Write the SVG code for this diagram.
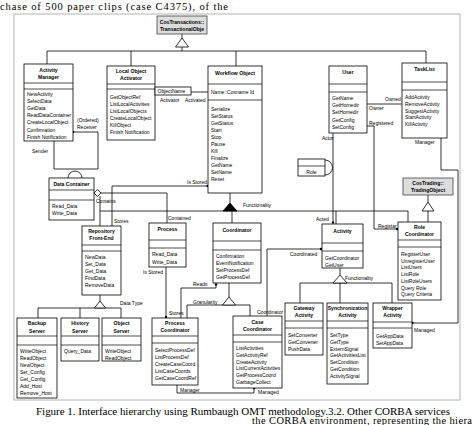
<svg xmlns="http://www.w3.org/2000/svg" width="474" height="425" viewBox="0 0 474 425">
<style>
.bx{fill:#fff;stroke:#000;stroke-width:0.8}
.gb{fill:#ddd;stroke:#444;stroke-width:0.8}
.dv{stroke:#000;stroke-width:0.7}
.ln{fill:none;stroke:#000;stroke-width:0.8}
.tri{fill:#fff;stroke:#000;stroke-width:0.8}
.ftri{fill:#000;stroke:#000;stroke-width:0.8}
.dot{fill:#000}
text{font-family:"Liberation Sans",Arial,sans-serif;font-size:5px;fill:#000}
.h{font-weight:bold;font-size:5.1px;text-anchor:middle}
.lb{font-size:5px}
.cap{font-family:"Liberation Serif","Times New Roman",serif;font-size:11px}
</style>
<rect width="474" height="425" fill="#fff"/>
<text class="cap" x="0" y="9.5" textLength="228" lengthAdjust="spacing" style="font-size:10.5px">chase of 500 paper clips (case C4375), of the</text>
<rect x="14" y="14" width="446" height="386" fill="none" stroke="#b4b4b4" stroke-width="1"/>

<g id="connectors">
  <path class="ln" d="M182,34V38M182,47V51M47,64V51H426V63M131,51V66M236,51V66"/>
  <polygon class="tri" points="182,38 175.5,47 188.5,47"/>
  <path class="ln" d="M54,141V169H98V132H73"/>
  <circle class="dot" cx="73" cy="132" r="1.2"/>
  <path class="ln" d="M68,178A7,7 0 0 1 82,178"/>
  <path class="ln" d="M191,92H208"/>
  <path class="ln" d="M208,186H112V226"/>
  <circle class="dot" cx="207.5" cy="186" r="1.2"/>
  <polygon class="tri" points="94,193 97.5,189.5 101,193 97.5,196.5"/>
  <path class="ln" d="M101,193H167V223"/>
  <path class="ln" d="M100,196V226M100,211H408V222M232,211V223M336,211V224"/>
  <path class="ln" d="M230,193V203"/>
  <polygon class="ftri" points="230,203 223,211 237,211"/>
  <path class="ln" d="M367,104H402"/>
  <path class="ln" d="M367,126H374V229H397"/>
  <circle class="dot" cx="397" cy="229" r="1.2"/>
  <path class="ln" d="M333,133V223"/>
  <circle class="dot" cx="333" cy="222.5" r="1.2"/>
  <path class="ln" d="M325,160A7.5,7.5 0 0 1 325,175"/>
  <path class="ln" d="M428,195V202M428,211V222"/>
  <polygon class="tri" points="428,202 422,211 434,211"/>
  <path class="ln" d="M267,316V249H321"/>
  <circle class="dot" cx="321" cy="249" r="1.2"/>
  <path class="ln" d="M166,267V318"/>
  <circle class="dot" cx="166" cy="317" r="1.2"/>
  <path class="ln" d="M216,284V288H181V318"/>
  <circle class="dot" cx="216" cy="284.5" r="1.2"/>
  <path class="ln" d="M229,283V297M187,318V305H250V316"/>
  <polygon class="tri" points="229,297 222.5,305 235.5,305"/>
  <path class="ln" d="M177,385V393H254V388"/>
  <circle class="dot" cx="254" cy="388" r="1.2"/>
  <path class="ln" d="M441,138V170H458V323H412"/>
  <circle class="dot" cx="412.5" cy="323" r="1.2"/>
  <path class="ln" d="M100,295V301M38,318V308H121V318M80,308V318"/>
  <polygon class="tri" points="100,301 94.5,308 105.5,308"/>
  <path class="ln" d="M340,268V275M300,303V283H392V303M340,283V303"/>
  <polygon class="tri" points="340,275 333,283 347,283"/>
  <text class="lb" x="77" y="121.5">(Ordered)</text>
  <text class="lb" x="77" y="128.5">Receiver</text>
  <text class="lb" x="32" y="153">Sender</text>
  <text class="lb" x="160" y="102">Activator</text>
  <text class="lb" x="185" y="102">Activated</text>
  <text class="lb" x="187" y="184">Is Stored</text>
  <text class="lb" x="96" y="203">Contains</text>
  <text class="lb" x="168" y="220">Contained</text>
  <text class="lb" x="114" y="223">Stores</text>
  <text class="lb" x="243" y="207">Functionality</text>
  <text class="lb" x="385" y="101">Owned</text>
  <text class="lb" x="369" y="110">Owner</text>
  <text class="lb" x="369" y="125">Registered</text>
  <text class="lb" x="322" y="140">Actor</text>
  <text class="lb" x="316" y="221">Acted</text>
  <text class="lb" x="378" y="228">Registar</text>
  <text class="lb" x="415" y="144">Manager</text>
  <text class="lb" x="290" y="256">Coordinated</text>
  <text class="lb" x="143" y="274">Is Stored</text>
  <text class="lb" x="193" y="286">Reads</text>
  <text class="lb" x="193" y="303.5">Granularity</text>
  <text class="lb" x="169" y="315">Stores</text>
  <text class="lb" x="257" y="314">Coordinator</text>
  <text class="lb" x="120" y="305">Data Type</text>
  <text class="lb" x="345" y="280">Functionality</text>
  <text class="lb" x="180" y="391.5">Manager</text>
  <text class="lb" x="258" y="393.5">Managed</text>
  <text class="lb" x="414" y="332">Managed</text>
</g>

<g id="cos-transactions">
  <rect class="gb" x="157" y="16" width="50" height="18"/>
  <text class="h" x="182" y="24">CosTransactions::</text>
  <text class="h" x="182" y="31">TransactionalObje</text>
</g>

<g id="activity-manager">
  <rect class="bx" x="24" y="64" width="49" height="77"/>
  <text class="h" x="48.5" y="72">Activity</text>
  <text class="h" x="48.5" y="79">Manager</text>
  <path class="dv" d="M24,83H73M24,89H73"/>
  <text x="27" y="96">NewActivity</text>
  <text x="27" y="103.1">SelectData</text>
  <text x="27" y="110.2">GetData</text>
  <text x="27" y="117.3">ReadDataContainer</text>
  <text x="27" y="124.4">CreateLocalObject</text>
  <text x="27" y="131.5">Confirmation</text>
  <text x="27" y="138.6">Finish Notification</text>
</g>

<g id="local-object-activator">
  <rect class="bx" x="107" y="66" width="48" height="74"/>
  <text class="h" x="131" y="73">Local Object</text>
  <text class="h" x="131" y="80">Activator</text>
  <path class="dv" d="M107,84H155M107,89H155"/>
  <text x="110" y="99">GetObjectRef</text>
  <text x="110" y="106">ListLocalActivities</text>
  <text x="110" y="113">ListLocalObjects</text>
  <text x="110" y="120">CreateLocalObject</text>
  <text x="110" y="127">KillObject</text>
  <text x="110" y="134">Finish Notification</text>
</g>

<g id="object-name">
  <rect class="bx" x="155" y="87" width="36" height="8"/>
  <text x="157.5" y="93">ObjectName</text>
</g>

<g id="workflow-object">
  <rect class="bx" x="208" y="66" width="54" height="127"/>
  <text class="h" x="235" y="75">Workflow Object</text>
  <path class="dv" d="M208,84H262M208,100H262"/>
  <text x="211" y="94">Name::Cosname Id</text>
  <text x="211" y="111">Serialize</text>
  <text x="211" y="118">SetStatus</text>
  <text x="211" y="125">GetStatus</text>
  <text x="211" y="132">Start</text>
  <text x="211" y="139">Stop</text>
  <text x="211" y="146">Pause</text>
  <text x="211" y="153">Kill</text>
  <text x="211" y="160">Finalize</text>
  <text x="211" y="167">GetName</text>
  <text x="211" y="174">SetName</text>
  <text x="211" y="181">Reset</text>
</g>

<g id="user">
  <rect class="bx" x="329" y="66" width="38" height="67"/>
  <text class="h" x="348" y="74">User</text>
  <path class="dv" d="M329,84H367M329,92H367"/>
  <text x="332" y="100">GetName</text>
  <text x="332" y="107.2">GetHomedir</text>
  <text x="332" y="114.4">SetHomedir</text>
  <text x="332" y="121.6">GetConfig</text>
  <text x="332" y="128.8">SetConfig</text>
</g>

<g id="tasklist">
  <rect class="bx" x="402" y="63" width="45" height="75"/>
  <text class="h" x="424.5" y="71">TaskList</text>
  <path class="dv" d="M402,82H447M402,90H447"/>
  <text x="405" y="99">AddActivity</text>
  <text x="405" y="105.8">RemoveActivity</text>
  <text x="405" y="112.6">SuggestActivity</text>
  <text x="405" y="119.4">StartActivity</text>
  <text x="405" y="126.2">KillActivity</text>
</g>

<g id="data-container">
  <rect class="bx" x="49" y="178" width="45" height="42"/>
  <text class="h" x="71.5" y="185.5">Data Container</text>
  <path class="dv" d="M49,190H94M49,200H94"/>
  <text x="52" y="208">Read_Data</text>
  <text x="52" y="215">Write_Data</text>
</g>

<g id="role">
  <rect class="bx" x="298" y="159" width="27" height="17"/>
  <path class="dv" d="M298,166H325"/>
  <text x="311.5" y="173.5" text-anchor="middle">Role</text>
</g>

<g id="cos-trading">
  <rect class="gb" x="403" y="178" width="50" height="17"/>
  <text class="h" x="428" y="185">CosTrading::</text>
  <text class="h" x="428" y="192">TradingObject</text>
</g>

<g id="repository-front-end">
  <rect class="bx" x="82" y="226" width="39" height="69"/>
  <text class="h" x="101.5" y="233">Repository</text>
  <text class="h" x="101.5" y="240">Front-End</text>
  <path class="dv" d="M82,245H121M82,251H121"/>
  <text x="85" y="259">NewData</text>
  <text x="85" y="266">Set_Data</text>
  <text x="85" y="273">Get_Data</text>
  <text x="85" y="280">FindData</text>
  <text x="85" y="287">RemoveData</text>
</g>

<g id="process">
  <rect class="bx" x="149" y="223" width="37" height="44"/>
  <text class="h" x="167.5" y="231">Process</text>
  <path class="dv" d="M149,240H186M149,248H186"/>
  <text x="152" y="256">Read_Data</text>
  <text x="152" y="263.5">Write_Data</text>
</g>

<g id="coordinator">
  <rect class="bx" x="213" y="223" width="48" height="60"/>
  <text class="h" x="237" y="232">Coordinator</text>
  <path class="dv" d="M213,241H261M213,250H261"/>
  <text x="216" y="258">Confirmation</text>
  <text x="216" y="265">EventNotification</text>
  <text x="216" y="272">SetProcessDef</text>
  <text x="216" y="279">GetProcessDef</text>
</g>

<g id="activity">
  <rect class="bx" x="322" y="224" width="41" height="44"/>
  <text class="h" x="342.5" y="233">Activity</text>
  <path class="dv" d="M322,243H363M322,251H363"/>
  <text x="325" y="260">GetCoordinator</text>
  <text x="325" y="266.5">GetUser</text>
</g>

<g id="role-coordinator">
  <rect class="bx" x="398" y="222" width="43" height="78"/>
  <text class="h" x="419.5" y="229">Role</text>
  <text class="h" x="419.5" y="235.5">Coordinator</text>
  <path class="dv" d="M398,240H441M398,247H441"/>
  <text x="401" y="256">RegisterUser</text>
  <text x="401" y="262.7">UnregisterUser</text>
  <text x="401" y="269.4">ListUsers</text>
  <text x="401" y="276.1">ListRole</text>
  <text x="401" y="282.8">ListRoleUsers</text>
  <text x="401" y="289.5">Query Role</text>
  <text x="401" y="296.2">Query Criteria</text>
</g>

<g id="backup-server">
  <rect class="bx" x="17" y="318" width="40" height="80"/>
  <text class="h" x="37" y="325">Backup</text>
  <text class="h" x="37" y="332.5">Server</text>
  <path class="dv" d="M17,336H57M17,345H57"/>
  <text x="20" y="353">WriteObject</text>
  <text x="20" y="360">ReadObject</text>
  <text x="20" y="367">NewObject</text>
  <text x="20" y="374">Set_Config</text>
  <text x="20" y="381">Get_Config</text>
  <text x="20" y="388">Add_Host</text>
  <text x="20" y="395">Remove_Host</text>
</g>

<g id="history-server">
  <rect class="bx" x="61" y="318" width="38" height="43"/>
  <text class="h" x="80" y="325">History</text>
  <text class="h" x="80" y="332.5">Server</text>
  <path class="dv" d="M61,336H99M61,345H99"/>
  <text x="64" y="353">Query_Data</text>
</g>

<g id="object-server">
  <rect class="bx" x="102" y="318" width="39" height="43"/>
  <text class="h" x="121.5" y="325">Object</text>
  <text class="h" x="121.5" y="332.5">Server</text>
  <path class="dv" d="M102,336H141M102,345H141"/>
  <text x="105" y="353">WriteObject</text>
  <text x="105" y="360">ReadObject</text>
</g>

<g id="process-coordinator">
  <rect class="bx" x="152" y="318" width="46" height="67"/>
  <text class="h" x="175" y="325">Process</text>
  <text class="h" x="175" y="332">Coordinator</text>
  <path class="dv" d="M152,336H198M152,343H198"/>
  <text x="155" y="352">SelectProcessDef</text>
  <text x="155" y="359">ListProcessDef</text>
  <text x="155" y="366">CreateCaseCoord</text>
  <text x="155" y="373">ListCaseCoords</text>
  <text x="155" y="380">GetCaseCoordRef</text>
</g>

<g id="case-coordinator">
  <rect class="bx" x="233" y="316" width="49" height="72"/>
  <text class="h" x="257.5" y="323.5">Case</text>
  <text class="h" x="257.5" y="330.5">Coordinator</text>
  <path class="dv" d="M233,335H282M233,342H282"/>
  <text x="236" y="350">ListActivities</text>
  <text x="236" y="356.8">GetActivityRef</text>
  <text x="236" y="363.6">CreateActivity</text>
  <text x="236" y="370.4">ListCurrentActivities</text>
  <text x="236" y="377.2">GetProcessCoord</text>
  <text x="236" y="384">GarbageCollect</text>
</g>

<g id="gateway-activity">
  <rect class="bx" x="285" y="303" width="38" height="52"/>
  <text class="h" x="304" y="310">Gateway</text>
  <text class="h" x="304" y="316.5">Activity</text>
  <path class="dv" d="M285,321H323M285,328H323"/>
  <text x="288" y="337">SetConverter</text>
  <text x="288" y="343.8">GetConverter</text>
  <text x="288" y="350.6">PushData</text>
</g>

<g id="synchronization-activity">
  <rect class="bx" x="327" y="303" width="41" height="81"/>
  <text class="h" x="347.5" y="310">Synchronization</text>
  <text class="h" x="347.5" y="316.5">Activity</text>
  <path class="dv" d="M327,321H368M327,328H368"/>
  <text x="330" y="337">SetType</text>
  <text x="330" y="343.8">GetType</text>
  <text x="330" y="350.6">ExternSignal</text>
  <text x="330" y="357.4">GetActivitiesList</text>
  <text x="330" y="364.2">SetCondition</text>
  <text x="330" y="371">GetCondition</text>
  <text x="330" y="377.8">ActivitySignal</text>
</g>

<g id="wrapper-activity">
  <rect class="bx" x="373" y="303" width="39" height="45"/>
  <text class="h" x="392.5" y="310">Wrapper</text>
  <text class="h" x="392.5" y="316.5">Activity</text>
  <path class="dv" d="M373,322H412M373,328H412"/>
  <text x="376" y="338">GetAppData</text>
  <text x="376" y="344.5">SetAppData</text>
</g>

<text class="cap" x="36" y="414.5" textLength="414" lengthAdjust="spacing">Figure 1. Interface hierarchy using Rumbaugh OMT methodology.3.2. Other CORBA services</text>
<text class="cap" x="252" y="424" textLength="220" lengthAdjust="spacing" style="font-size:10.5px">the CORBA environment, representing the hiera</text>
</svg>
